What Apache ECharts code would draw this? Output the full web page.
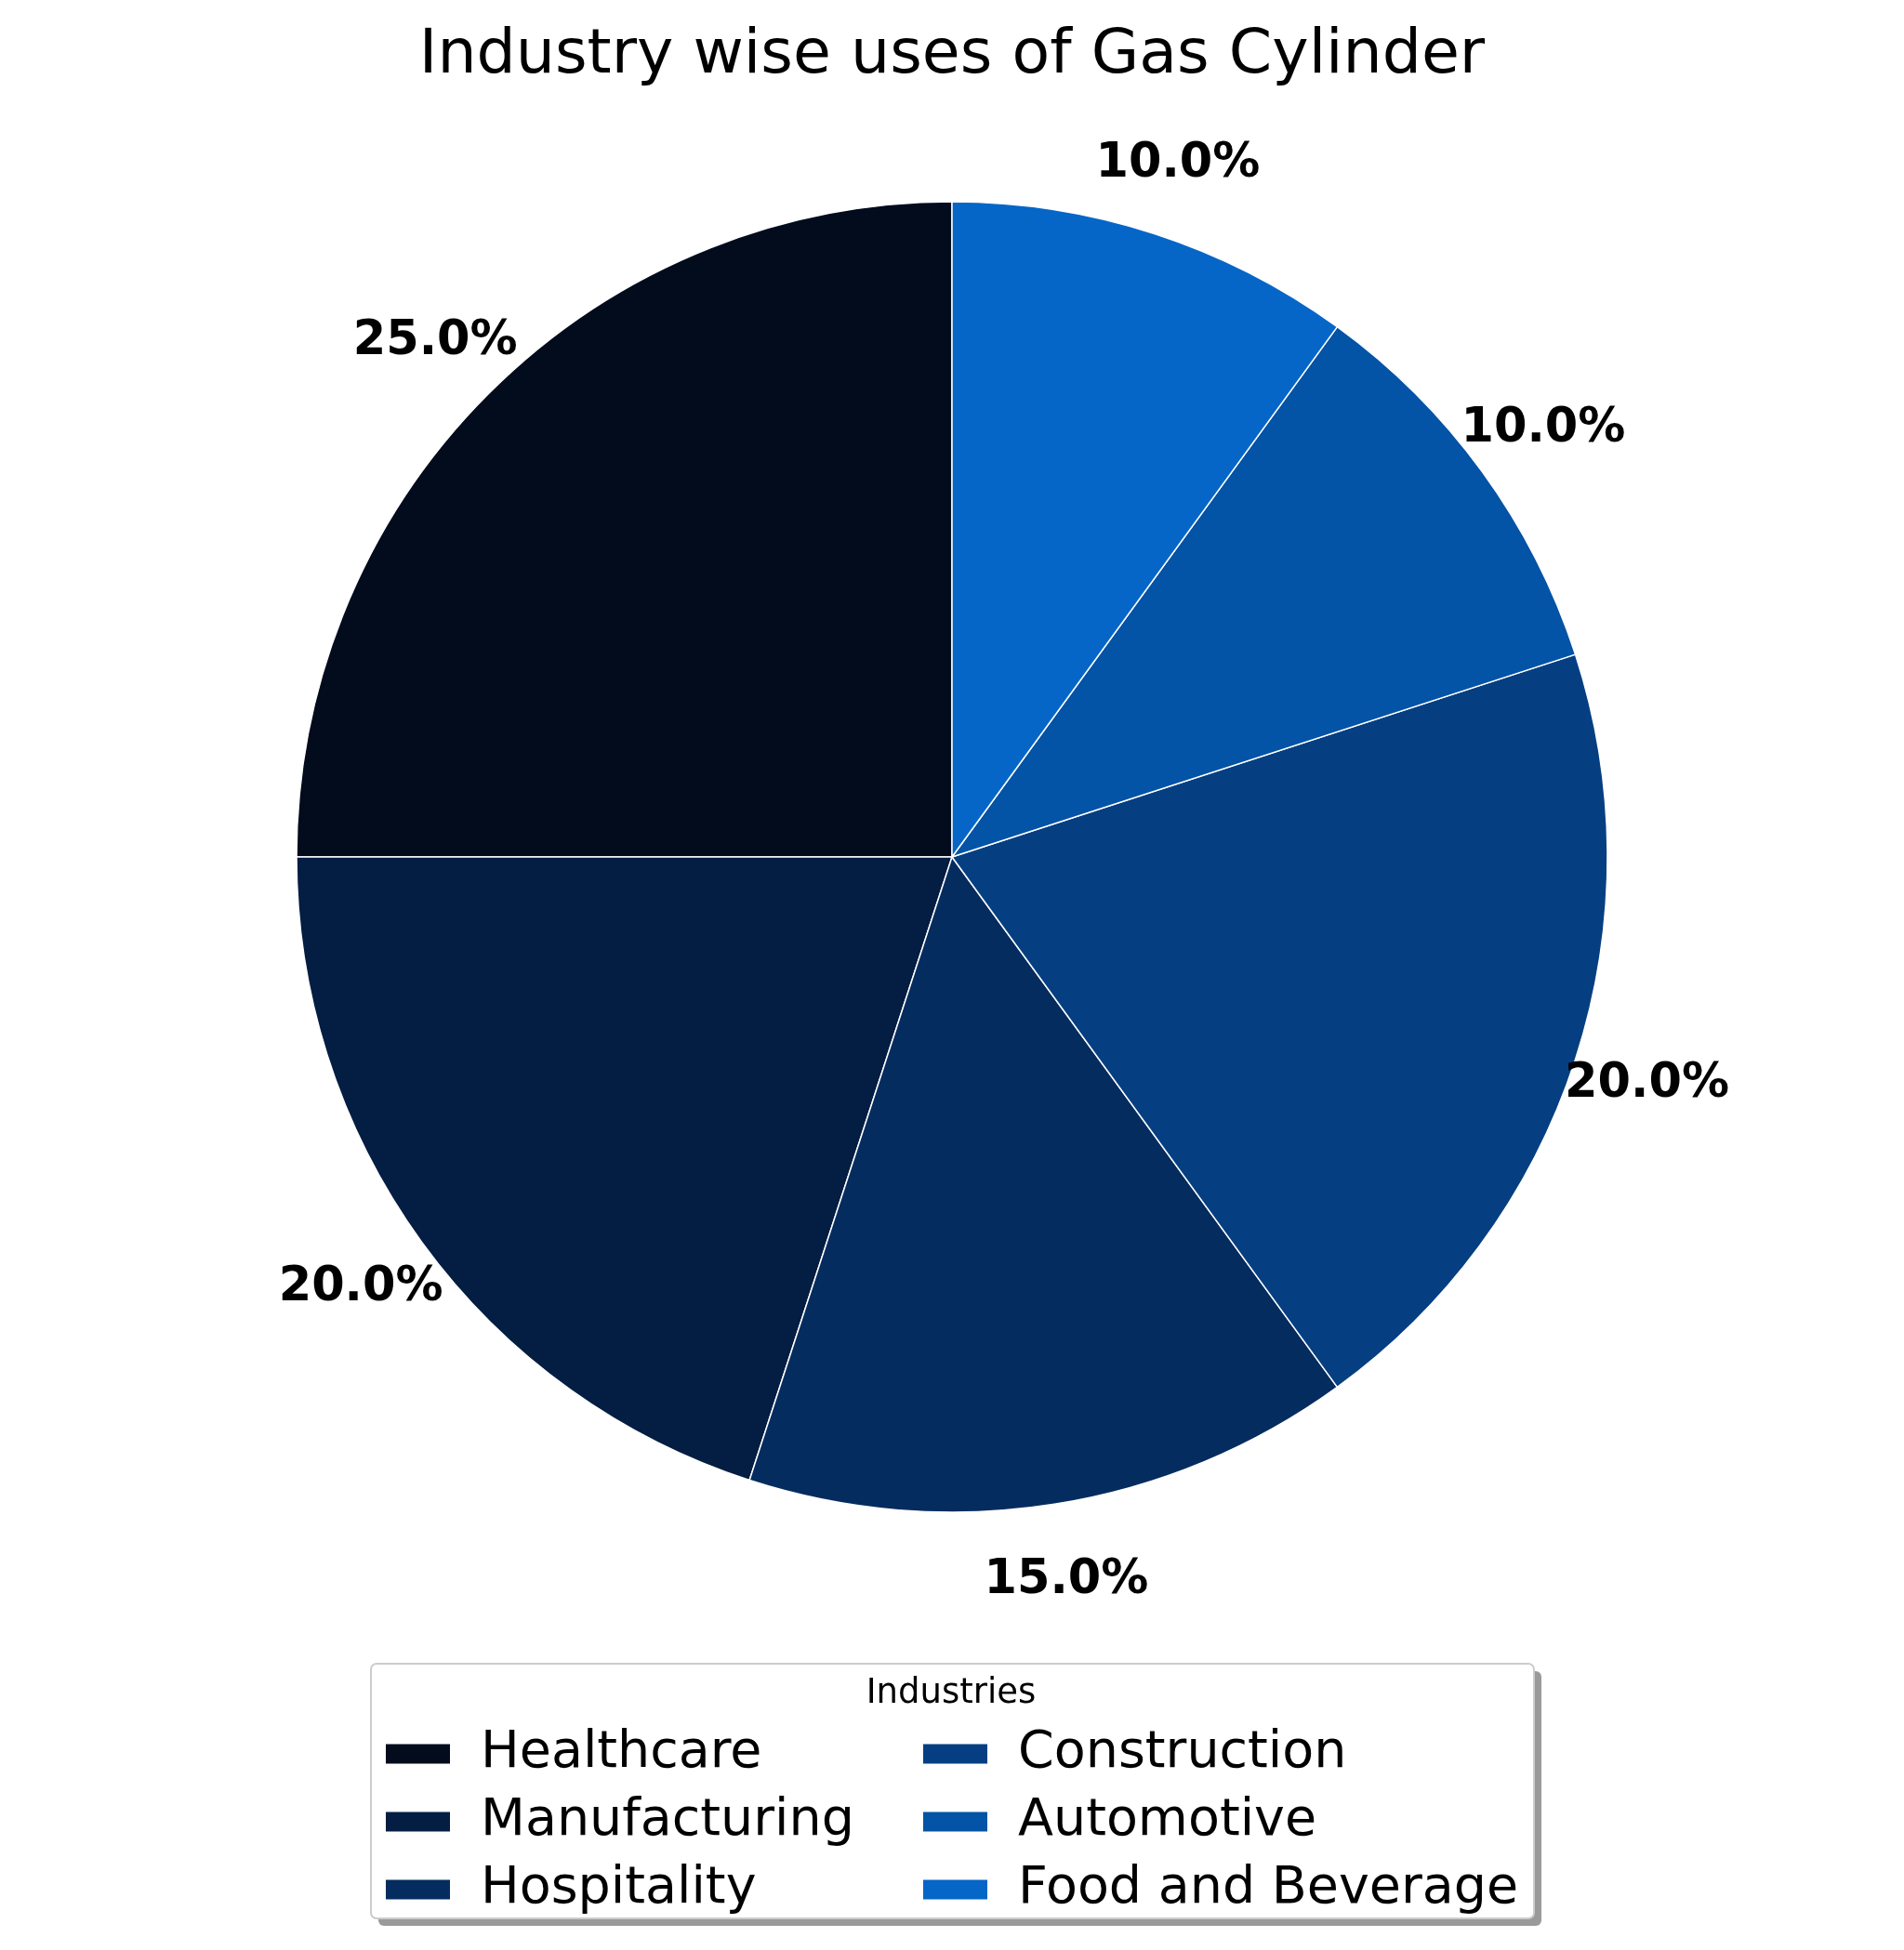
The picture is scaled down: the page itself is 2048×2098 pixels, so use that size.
<!DOCTYPE html>
<html>
<head>
<meta charset="utf-8">
<script src="https://cdn.jsdelivr.net/npm/echarts@6/dist/echarts.min.js"></script>
<style>
html,body{margin:0;padding:0;background:#fff;}
#chart{width:2048px;height:2098px;}
</style>
</head>
<body>
<div id="chart"></div>
<script>
const titleText = 'Industry wise uses of Gas Cylinder';
const legendTitle = 'Industries';
const categories = ['Healthcare', 'Manufacturing', 'Hospitality', 'Construction', 'Automotive', 'Food and Beverage'];
const shares = [25, 20, 15, 20, 10, 10];
const colors = ['#020c1d', '#041d42', '#052c5f', '#053f82', '#0353a6', '#0566c7'];

const FONT = 'DejaVu Sans';
const chart = echarts.init(document.getElementById('chart'), null, {renderer: 'canvas'});

const pieData = categories.map((c, i) => ({name: c, value: shares[i], itemStyle: {color: colors[i]}}));
const labelData = categories.map((c, i) => ({name: c, value: shares[i]}));

const legendCommon = {
  orient: 'vertical',
  icon: 'rect',
  itemWidth: 71,
  itemHeight: 23,
  itemGap: 17,
  selectedMode: false,
  textStyle: {fontFamily: FONT, fontSize: 55.5, color: '#000', lineHeight: 55, padding: [0, 0, 0, 27]}
};

chart.setOption({
  backgroundColor: '#ffffff',
  animation: false,
  title: {
    text: titleText,
    left: 'center',
    top: 22,
    textStyle: {fontFamily: FONT, fontSize: 66.5, fontWeight: 'normal', color: '#000'}
  },
  graphic: [
    {type: 'rect', shape: {x: 407, y: 1798, width: 1251, height: 274, r: 6}, style: {fill: '#9a9a9a'}, z: 0, silent: true},
    {type: 'rect', shape: {x: 399, y: 1790, width: 1251, height: 274, r: 6}, style: {fill: '#ffffff', stroke: '#cccccc', lineWidth: 2}, z: 1, silent: true},
    {type: 'text', x: 1023, y: 1822, style: {text: legendTitle, fontFamily: FONT, fontSize: 37, fill: '#000', textAlign: 'center', textVerticalAlign: 'middle'}, z: 2, silent: true}
  ],
  legend: [
    Object.assign({}, legendCommon, {data: categories.slice(0, 3), left: 408, top: 1854, z: 5}),
    Object.assign({}, legendCommon, {data: categories.slice(3), left: 986, top: 1854, z: 5})
  ],
  series: [
    {
      type: 'pie',
      center: [1024, 922],
      radius: [0, 705],
      startAngle: 90,
      clockwise: false,
      data: pieData,
      label: {show: false},
      labelLine: {show: false},
      itemStyle: {borderColor: '#ffffff', borderWidth: 1.5},
      emphasis: {disabled: true}
    },
    {
      type: 'pie',
      center: [1024, 924],
      radius: [0, 1566],
      startAngle: 90,
      clockwise: false,
      silent: true,
      z: 10,
      legendHoverLink: false,
      data: labelData,
      itemStyle: {color: 'rgba(0,0,0,0)', borderWidth: 0},
      labelLine: {show: false},
      label: {
        show: true,
        position: 'inside',
        formatter: p => p.percent.toFixed(1) + '%',
        fontFamily: FONT,
        fontSize: 51,
        fontWeight: 'bold',
        color: '#000'
      },
      emphasis: {disabled: true}
    }
  ]
});
</script>
</body>
</html>
